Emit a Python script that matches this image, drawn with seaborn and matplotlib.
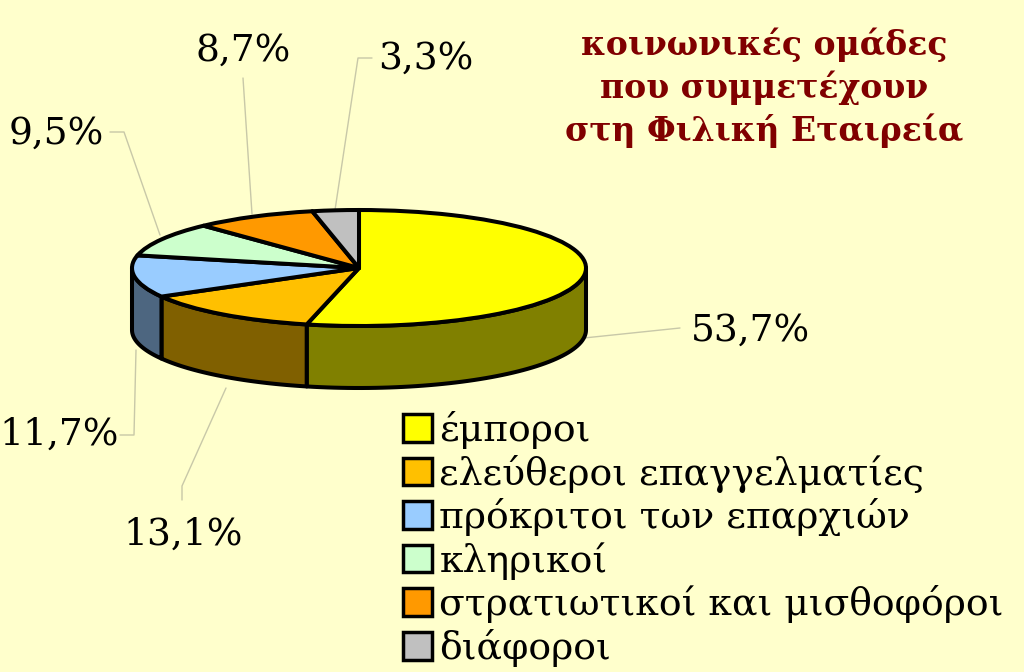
import numpy as np
import seaborn as sns
from matplotlib import pyplot as plt
from matplotlib.patches import Patch

labels = ['έμποροι', 'ελεύθεροι επαγγελματίες', 'πρόκριτοι των επαρχιών',
          'κληρικοί', 'στρατιωτικοί και μισθοφόροι', 'διάφοροι']
shares = [53.7, 13.1, 11.7, 9.5, 8.7, 3.3]
share_labels = ['53,7%', '13,1%', '11,7%', '9,5%', '8,7%', '3,3%']
top_colors = ['#FFFF00', '#FFC000', '#99CCFF', '#CCFFCC', '#FF9900', '#C0C0C0']
side_colors = ['#808000', '#806000', '#4D6680', '#668066', '#804D00', '#606060']
title = 'κοινωνικές ομάδες\nπου συμμετέχουν\nστη Φιλική Εταιρεία'

W, H = 1024, 672
CX, CY, RX, RY = 359, 268, 227, 58
DEPTH = 62 / RY
BG = '#FFFFCC'
LW = 2.9

sns.set_theme(style='white')
plt.rcParams['font.family'] = ['DejaVu Serif']

fig = plt.figure(figsize=(W / 100, H / 100), dpi=100, facecolor=BG)
ax = fig.add_axes([0, 0, 1, 1])
palette = sns.color_palette(top_colors)

wedges, _ = ax.pie(shares, colors=palette, startangle=90, counterclock=False, radius=1,
                   wedgeprops={'edgecolor': 'black', 'linewidth': LW, 'joinstyle': 'round'})
ax.set_aspect('auto')
ax.set_xlim(-CX / RX, (W - CX) / RX)
ax.set_ylim(-(H - CY) / RY, CY / RY)
ax.set_facecolor(BG)
ax.axis('off')


def px(x, y):
    return (x - CX) / RX, (CY - y) / RY


# side wall of the disc, only the front half is visible
edges = 90 - np.cumsum([0] + shares) * 3.6
for start, end, color in zip(edges[:-1], edges[1:], side_colors):
    lo, hi = max(end, -180), min(start, 0)
    if lo >= hi:
        continue
    t = np.radians(np.linspace(lo, hi, 60))
    xs = np.r_[np.cos(t), np.cos(t[::-1])]
    ys = np.r_[np.sin(t), np.sin(t[::-1]) - DEPTH]
    ax.fill(xs, ys, facecolor=color, edgecolor='black', linewidth=LW,
            joinstyle='round', zorder=0.5)

# leader lines
leaders = [[(584, 338), (680, 328)], [(226, 388), (182, 486), (182, 500)],
           [(136, 350), (134, 435), (120, 435)], [(160, 235), (124, 132), (110, 132)],
           [(252, 214), (243, 78)], [(335, 210), (358, 58), (372, 58)]]
for pts in leaders:
    xy = np.array([px(*p) for p in pts])
    ax.plot(xy[:, 0], xy[:, 1], color='#C8C8A8', lw=1, zorder=0.3)

positions = [(750, 331), (183, 535), (59, 435), (56, 134), (243, 51), (426, 59)]
for (x, y), s in zip(positions, share_labels):
    ax.text(*px(x, y), s, fontsize=27, ha='center', va='center', color='black')

ax.text(*px(764, 88), title, fontsize=23.8, fontweight='bold', color='#800000',
        ha='center', va='center', linespacing=1.3)

handles = [Patch(facecolor=c, edgecolor='black', linewidth=2.5) for c in palette]
fig.legend(handles, labels, loc='upper left', bbox_to_anchor=(403 / W, 1 - 411 / H),
           frameon=False, fontsize=27.2, labelcolor='black', handlelength=0.76,
           handleheight=0.76, handletextpad=0.2, labelspacing=0.15,
           borderaxespad=0, borderpad=0)

fig.savefig('out.png', dpi=100, facecolor=BG)
